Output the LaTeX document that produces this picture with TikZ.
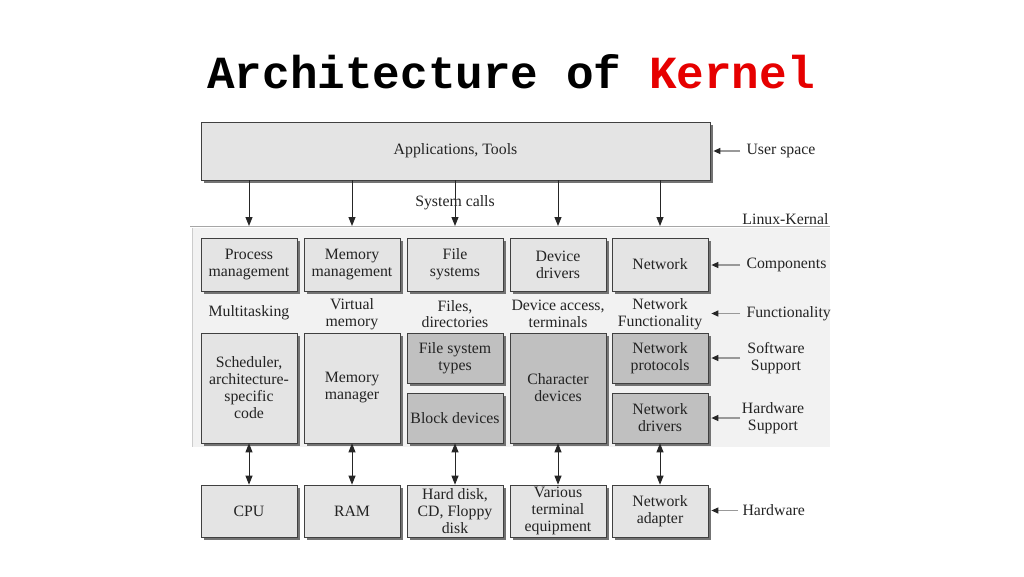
\documentclass[tikz,border=0pt]{standalone}
\usepackage{fontspec}
\setmainfont{Liberation Serif}
\newfontfamily\titlefont{Liberation Mono}
\usetikzlibrary{arrows.meta,shadows}
\definecolor{boxlight}{RGB}{228,228,228}
\definecolor{boxdark}{RGB}{192,192,192}
\definecolor{kernbg}{RGB}{242,242,242}
\definecolor{txt}{RGB}{35,35,35}
\definecolor{titlered}{RGB}{230,0,0}
\begin{document}
\begin{tikzpicture}[x=1pt,y=-1pt,
  font=\fontsize{15.8}{17}\selectfont,
  every node/.style={text=txt},
  kbox/.style={draw=black!75, line width=0.7pt, fill=boxlight, minimum width=96pt, align=center, inner sep=1pt,
    drop shadow={shadow xshift=3pt, shadow yshift=-3pt, fill=black!55, opacity=1}},
  dbox/.style={kbox, fill=boxdark},
  down/.style={draw=black!85, line width=1pt, -{Triangle[length=9pt,width=7pt]}},
  both/.style={draw=black!85, line width=1pt, {Triangle[length=9pt,width=7pt]}-{Triangle[length=9pt,width=7pt]}},
  lbl/.style={draw=black!40, line width=1.2pt, -{Triangle[length=7pt,width=6pt,fill=black!85,color=black!85]}},
  side/.style={anchor=center, align=center, font=\fontsize{15.8}{17}\selectfont},
  func/.style={align=center, font=\fontsize{15.8}{16.5}\selectfont}
]
\useasboundingbox (0,0) rectangle (1024,576);
\fill[white] (0,0) rectangle (1024,576);

% title
\node[anchor=base, text=black] (title) at (511,88) {\titlefont\bfseries\fontsize{46}{46}\selectfont Architecture of \textcolor{titlered}{Kernel}};

% kernel region
\fill[kernbg] (192,228) rectangle (830,447);
\draw[black!35, line width=0.6pt] (190,226.5) -- (830,226.5);
\draw[black!20, line width=0.6pt] (192.5,228) -- (192.5,447);

% applications
\node[kbox, minimum width=509pt, minimum height=58pt] (apps) at (455.5,151) {Applications, Tools};

% row 1 components
\foreach \n/\x/\t in {pm/249/{Process\\management}, mm/352/{Memory\\management}, fs/455/{File\\systems}, dd/558/{Device\\drivers}, nw/660/{Network}}
  \node[kbox, minimum height=53pt] (\n) at (\x,264.5) {\t};

% functionality
\node[func] (f1) at (249,313) {Multitasking};
\node[func] (f2) at (352,314) {Virtual\\memory};
\node[func] (f3) at (455,314) {Files,\\directories};
\node[func] (f4) at (558,314) {Device access,\\terminals};
\node[func] (f5) at (660,314) {Network\\Functionality};

% row 3
\node[kbox, minimum height=110pt] (sched) at (249,388) {Scheduler,\\architecture-\\specific\\code};
\node[kbox, minimum height=110pt] (mman) at (352,388) {Memory\\manager};
\node[dbox, minimum height=50pt] (fst) at (455,358) {File system\\types};
\node[dbox, minimum height=50pt] (blk) at (455,418) {Block devices};
\node[dbox, minimum height=110pt] (chr) at (558,388) {Character\\devices};
\node[dbox, minimum height=50pt] (np) at (660,358) {Network\\protocols};
\node[dbox, minimum height=50pt] (nd) at (660,418) {Network\\drivers};

% hardware
\node[kbox, minimum height=52pt] (cpu) at (249,511) {CPU};
\node[kbox, minimum height=52pt] (ram) at (352,511) {RAM};
\node[kbox, minimum height=52pt] (hdd) at (455,511) {Hard disk,\\CD, Floppy\\disk};
\node[kbox, minimum height=52pt] (term) at (558,511) {Various\\terminal\\equipment};
\node[kbox, minimum height=52pt] (adp) at (660,511) {Network\\adapter};

% system calls
\node (sc) at (455,203) {System calls};
\node[anchor=east] (lk) at (832,219.5) {Linux-Kernal};
\foreach \n/\x in {k1/249,k2/352,k3/455,k4/558,k5/660}
  \coordinate (\n) at (\x,226);
\foreach \n in {1,...,5}
  \draw[down] (apps.south -| k\n) -- (k\n);

% hardware arrows
\draw[both] (sched.south) -- (cpu.north);
\draw[both] (mman.south) -- (ram.north);
\draw[both] (blk.south) -- (hdd.north);
\draw[both] (chr.south) -- (term.north);
\draw[both] (nd.south) -- (adp.north);

% side labels
\node[anchor=west] (us) at (743,151) {User space};
\node[anchor=west] (cp) at (743,265) {Components};
\node[anchor=west] (fn) at (743,313.5) {Functionality};
\node[side] (ss) at (776,358) {Software\\Support};
\node[side] (hs) at (773,418) {Hardware\\Support};
\node[anchor=west] (hw) at (739,510.5) {Hardware};

\coordinate (s1) at (740,151);
\coordinate (s2) at (740,265);
\coordinate (s3) at (740,313.5);
\coordinate (s4) at (740,358);
\coordinate (s5) at (740,418);
\coordinate (s6) at (738,510.5);
\draw[lbl] (s1) -- ([xshift=3pt]apps.east |- s1);
\draw[lbl] (s2) -- ([xshift=3pt]nw.east |- s2);
\draw[lbl] (s3) -- ([xshift=3pt]nw.east |- s3);
\draw[lbl] (s4) -- ([xshift=3pt]np.east |- s4);
\draw[lbl] (s5) -- ([xshift=3pt]nd.east |- s5);
\draw[lbl] (s6) -- ([xshift=3pt]adp.east |- s6);
\end{tikzpicture}
\end{document}
